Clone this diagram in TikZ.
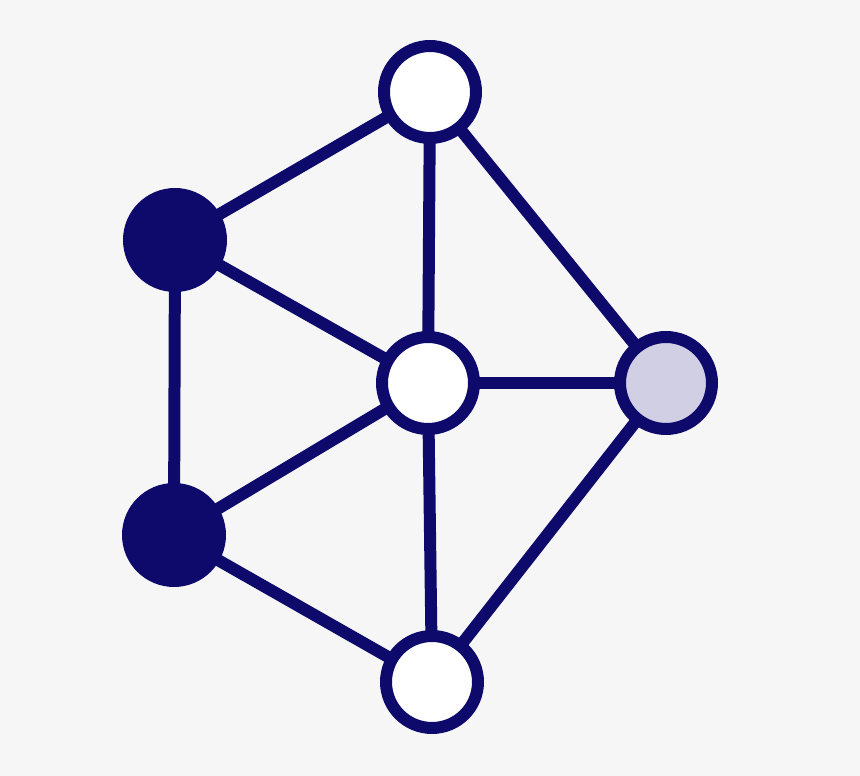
\documentclass[tikz,border=0pt]{standalone}
\usepackage{tikz}
\usetikzlibrary{positioning}
\definecolor{navy}{RGB}{13,10,107}
\definecolor{lavender}{RGB}{208,207,228}
\definecolor{bgray}{RGB}{246,246,246}

\begin{document}
\begin{tikzpicture}[x=0.02cm, y=-0.02cm,
		vert/.style={circle, draw=navy, line width=0.24cm, minimum size=1.84cm, inner sep=0pt, outer sep=0pt, fill=white},
		full/.style={vert, fill=navy},
		half/.style={vert, fill=lavender},
		link/.style={draw=navy, line width=0.24cm}]
		\useasboundingbox[fill=bgray] (0,0) rectangle (860,776);
		\node[vert] (t) at (430,92) {};
		\node[full] (l1) at (175,240) {};
		\node[full] (l2) at (174,535) {};
		\node[vert] (c) at (428,383) {};
		\node[half] (r) at (666,383) {};
		\node[vert] (b) at (432,682) {};
		
		\draw[link] (t) -- (l1);
		\draw[link] (t) -- (c);
		\draw[link] (t) -- (r);
		\draw[link] (l1) -- (c);
		\draw[link] (l1) -- (l2);
		\draw[link] (l2) -- (c);
		\draw[link] (l2) -- (b);
		\draw[link] (c) -- (r);
		\draw[link] (c) -- (b);
		\draw[link] (r) -- (b);
	\end{tikzpicture}
\end{document}
